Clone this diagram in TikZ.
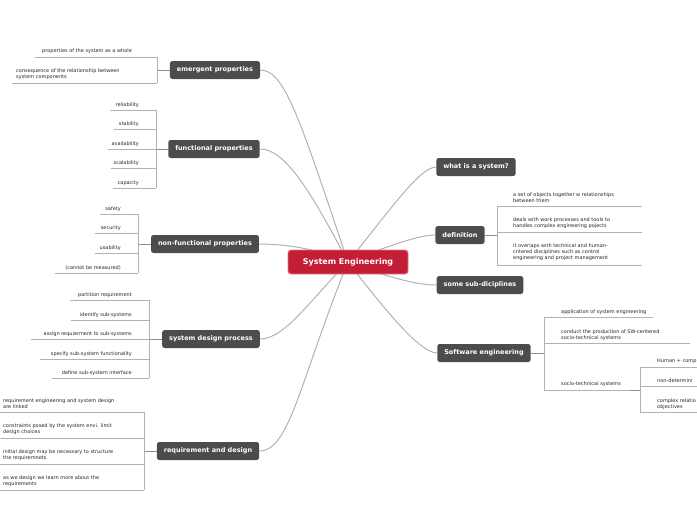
\documentclass[tikz,border=0pt]{standalone}
\usepackage{fontspec}
\setmainfont{DejaVu Sans}
\usetikzlibrary{backgrounds}
\definecolor{crim}{HTML}{C41E36}
\begin{document}
\begin{tikzpicture}[x=1pt,y=-1pt,
 topic/.style={fill=black!70,rounded corners=2.5pt,text=white,font=\bfseries\fontsize{6.5}{7}\selectfont,minimum height=18pt,inner xsep=7pt},
 central/.style={fill=crim,rounded corners=3pt,text=white,font=\bfseries\fontsize{8}{9}\selectfont,minimum height=24pt,minimum width=120pt,draw=crim!60,line width=0.8pt},
 leaf/.style={font=\fontsize{5}{6.3}\selectfont,text=black!85,inner sep=1pt,align=left},
 br/.style={draw=black!45,line width=0.9pt},
 ul/.style={draw=black!30,line width=0.6pt},
 conn/.style={draw=black!30,line width=1pt}]
\useasboundingbox (0,0) rectangle (697,520);
\begin{scope}
\clip (0,0) rectangle (697,520);
\node[central] (c) at (348,262) {System Engineering};
\node[topic] (em) at (215,70) {emergent properties};
\node[topic] (fu) at (214,149) {functional properties};
\node[topic] (nf) at (205,244) {non-functional properties};
\node[topic] (sd) at (211,339) {system design process};
\node[topic] (rd) at (208,451) {requirement and design};
\node[topic] (wi) at (476,167) {what is a system?};
\node[topic] (de) at (460,235) {definition};
\node[topic] (sub) at (480,285) {some sub-diciplines};
\node[topic] (se) at (484,353) {Software engineering};
% main connectors (behind nodes)
\begin{scope}[on background layer]
\draw[conn] (c.center) .. controls (300,120) and (285,70) .. (em.east);
\draw[conn] (c.center) .. controls (310,190) and (285,149) .. (fu.east);
\draw[conn] (c.center) .. controls (320,250) and (290,244) .. (nf.east);
\draw[conn] (c.center) .. controls (310,300) and (285,339) .. (sd.east);
\draw[conn] (c.center) .. controls (300,380) and (290,451) .. (rd.east);
\draw[conn] (c.center) .. controls (390,210) and (420,167) .. (wi.west);
\draw[conn] (c.center) .. controls (390,245) and (420,235) .. (de.west);
\draw[conn] (c.center) .. controls (395,280) and (420,285) .. (sub.west);
\draw[conn] (c.center) .. controls (385,310) and (420,353) .. (se.west);
\end{scope}
% emergent
\draw[br] (em.west) -- (157,70);
\draw[ul] (157,57) -- (157,83);
\draw[ul] (35,57) -- (157,57); \draw[ul] (12,83) -- (157,83);
\node[leaf,anchor=base west] (e1) at (41,52) {properties of the system as a whole};
\node[leaf,anchor=north west] (e2) at (15,67) {consequence of the relationship between\\system components};
% functional
\draw[br] (fu.west) -- (156,149);
\draw[ul] (156,110) -- (156,188);
\foreach \y/\t/\xl in {110/reliability/110,129/stability/114,149/availability/108,168/scalability/111,188/capacity/113}{
 \draw[ul] (\xl,\y) -- (156,\y);
 \node[leaf,anchor=base east] at (140,\y-4) {\t};}
% non-functional
\draw[br] (nf.west) -- (138,244);
\draw[ul] (138,214) -- (138,273);
\foreach \y/\t/\xl in {214/safety/100,233/security/95,253/usability/95,273/{(cannot be measured)}/55}{
 \draw[ul] (\xl,\y) -- (138,\y);
 \node[leaf,anchor=base east] at (122,\y-4) {\t};}
% system design
\draw[br] (sd.west) -- (149,339);
\draw[ul] (149,300) -- (149,378);
\foreach \y/\t/\xl in {300/partition requirement/70,320/identify sub-systems/71,339/assign requierment to sub-systems/31,359/specify sub-system functionality/40,378/define sub-system interface/52}{
 \draw[ul] (\xl,\y) -- (149,\y);
 \node[leaf,anchor=base east] at (133,\y-4) {\t};}
% requirement and design
\draw[br] (rd.west) -- (144,451);
\draw[ul] (144,412) -- (144,490);
\foreach \y in {412,438,464,490}{\draw[ul] (0,\y) -- (144,\y);}
\node[leaf,anchor=north west] at (2,397) {requirement engineering and system design\\are linked};
\node[leaf,anchor=north west] at (2,422) {constraints posed by the system envi. limit\\design choices};
\node[leaf,anchor=north west] at (2,448) {initial design may be necessary to structure\\the requiremnets};
\node[leaf,anchor=north west] at (2,474) {as we design we learn more about the\\requirements};
% definition
\draw[br] (de.east) -- (497,235);
\draw[ul] (497,206) -- (497,265);
\foreach \y in {206,232,265}{\draw[ul] (497,\y) -- (642,\y);}
\node[leaf,anchor=north west] at (512,191) {a set of objects together w relationships\\between them};
\node[leaf,anchor=north west] at (512,216) {deals with work processes and tools to\\handles complex engineering pojects};
\node[leaf,anchor=north west] at (512,242) {it overlaps with technical and human-\\cntered disciplines such as control\\engineering and project management};
% software engineering
\draw[br] (se.east) -- (544,353);
\draw[ul] (544,317) -- (544,390);
\draw[ul] (544,317) -- (653,317); \draw[ul] (544,343) -- (690,343); \draw[ul] (544,390) -- (630,390);
\node[leaf,anchor=base west] at (560,313) {application of system engineering};
\node[leaf,anchor=north west] at (560,328) {conduct the production of SW-centered\\socio-technical systems};
\node[leaf,anchor=base west] (st) at (560,385) {socio-technical systems};
\draw[br] (630,390) -- (640,390);
\draw[ul] (640,367) -- (640,412);
\foreach \y in {367,386,412}{\draw[ul] (640,\y) -- (697,\y);}
\node[leaf,anchor=base west] at (656,362) {Human + comp};
\node[leaf,anchor=base west] at (656,382) {non-determini};
\node[leaf,anchor=north west] at (656,397) {complex relatio\\objectives};
\end{scope}
\end{tikzpicture}
\end{document}
